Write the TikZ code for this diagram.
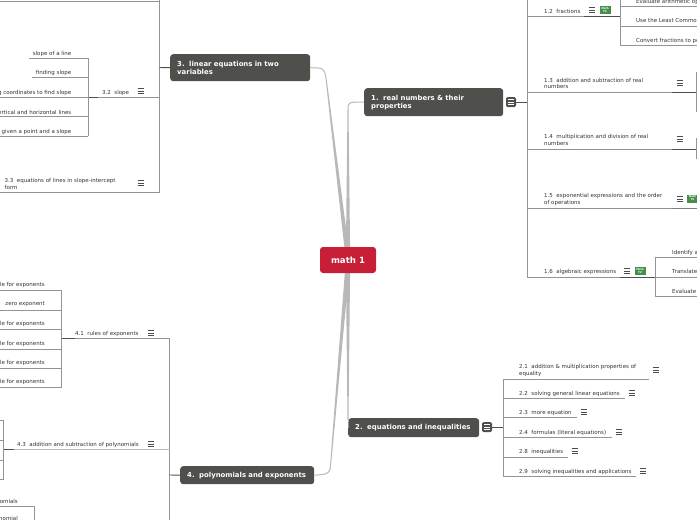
\documentclass[tikz,border=0pt]{standalone}
\usepackage{fontspec}
\setmainfont{DejaVu Sans}
\usetikzlibrary{calc}
\definecolor{HubClr}{rgb}{0.78,0.12,0.22}
\definecolor{MainClr}{rgb}{0.31,0.31,0.30}
\definecolor{LimbClr}{rgb}{0.72,0.72,0.72}
\definecolor{TwigClr}{rgb}{0.58,0.58,0.58}
\definecolor{TvClr}{rgb}{0.27,0.56,0.29}
\tikzset{
  mainnode/.style={fill=MainClr,text=white,rounded corners=3pt,anchor=north west,inner xsep=7pt,inner ysep=0pt,align=left,font=\bfseries\fontsize{6.9}{8}\selectfont},
  leaf/.style={anchor=west,inner sep=0pt,align=left,text=black!80,yshift=-.5pt,font=\fontsize{5.5}{6.4}\selectfont},
  leafr/.style={leaf,anchor=east},
  twig/.style={draw=TwigClr,line width=.8pt},
  stub/.style={draw=MainClr,line width=.9pt},
  menubtn/.style={fill=MainClr,rounded corners=1.5pt,minimum size=10pt,inner sep=0pt},
  tvbadge/.style={fill=TvClr,text=white,inner sep=0pt,minimum width=11pt,minimum height=8pt,align=center,font=\bfseries\fontsize{2.6}{3}\selectfont},
  menu/.pic={\draw[line width=.55pt,pic actions] (-3.4,-2.7) -- (3.4,-2.7) (-3.4,0) -- (3.4,0) (-3.4,2.7) -- (3.4,2.7);}
}
% limb from the hub to a main node
\newcommand{\limb}[3]{
  \fill[LimbClr] ($(hubc)+(-2.2,0)$) -- ($(#2)+(-.5,0)$) -- ($(#2)+(.5,0)$) -- ($(hubc)+(2.2,0)$) -- cycle;
  \draw[LimbClr,line width=1pt] (#2) .. controls (#3) .. (#1);
}
\begin{document}
\begin{tikzpicture}[x=1pt,y=-1pt]
\useasboundingbox (0,0) rectangle (697,520);
\clip (0,0) rectangle (697,520);

% main nodes
\node[mainnode,text width=125pt,minimum height=28pt] (main1) at (364,88) {1.\ \ real numbers \& their\\properties};
\node[mainnode,text width=117pt,minimum height=19pt] (main2) at (348,418) {\mbox{2.\ \ equations and inequalities}};
\node[mainnode,text width=126pt,minimum height=27pt] (main3) at (170,54) {3.\ \ linear equations in two\\variables};
\node[mainnode,text width=120pt,minimum height=18pt] (main4) at (180,466) {\mbox{4.\ \ polynomials and exponents}};
\node[menubtn] (btn1) at (511,102) {};
\node[menubtn] (btn2) at (487,427) {};
\foreach \b in {btn1,btn2}{\pic[draw=white,scale=.9] at (\b) {menu};}

\coordinate (hubc) at (348,260);
\coordinate (knee1) at (348,110);
\coordinate (knee2) at (348,420);
\coordinate (knee3) at (326,78);
\coordinate (knee4) at (331,460);
\limb{main1.west}{knee1}{348,102}
\limb{main2.west}{knee2}{348,428}
\limb{main3.east}{knee3}{324,68}
\limb{main4.east}{knee4}{330,474}
\node[fill=HubClr,text=white,rounded corners=3pt,minimum width=56pt,minimum height=26pt,inner sep=0pt,font=\bfseries\fontsize{8.6}{9}\selectfont] (hub) at (hubc) {math 1};

% branch 1
\coordinate (top1) at (527,0);
\coordinate (end1) at (527,277);
\coordinate (joint1) at (527,102);
\draw[twig] (top1) -- (end1);
\draw[stub] (btn1.east) -- (joint1);
\foreach \n/\y/\t/\x/\s in {a/16/11/584/{1.2\ \ fractions},b/92/83/672/{1.3\ \ addition and subtraction of real\\numbers},c/149/139.5/672/{1.4\ \ multiplication and division of real\\numbers},d/208/199/672/{1.5\ \ exponential expressions and the order\\of operations},e/277/271/620/{1.6\ \ algebraic expressions}}{
  \coordinate (s\n) at (527,\y);
  \coordinate (m\n) at (\x,\y);
  \node[leaf] at (544,\t) {\s};
  \draw[twig] (s\n) -- (m\n);
}
\coordinate (fr) at (620,16);
\coordinate (alg) at (655,277);
\draw[stub] (ma) -- (fr);
\draw[stub] (mb) -- (697,92);
\draw[stub] (mc) -- (697,149);
\draw[stub,TwigClr!70!MainClr] (md) -- (697,208);
\draw[stub] (me) -- (alg);

\draw[twig] (620,0) -- (620,45);
\foreach \y in {6,26,45}{\draw[twig] (620,\y) -- (697,\y);}
\node[leaf] at (636,1) {Evaluate arithmetic operations};
\node[leaf] at (636,20) {Use the Least Common};
\node[leaf] at (636,40) {Convert fractions to percents};

\draw[twig] (696.5,72) -- (696.5,112);
\draw[twig] (696.5,138) -- (696.5,159);

\draw[twig] (655,257) -- (655,296);
\foreach \y in {257,277,296}{\draw[twig] (655,\y) -- (697,\y);}
\node[leaf] at (672,252) {Identify algebraic};
\node[leaf] at (672,271) {Translate};
\node[leaf] at (672,291) {Evaluate};

\foreach \x/\y in {592/10,680/83,680/139,680/199,627/271}{\pic[draw=black!70] at (\x,\y) {menu};}
\foreach \x/\y in {605/10,692.5/198.5,640/271}{\node[tvbadge] at (\x,\y) {Math\\TV};}

% branch 2
\coordinate (top2) at (503,379);
\coordinate (end2) at (503,476);
\coordinate (joint2) at (503,427);
\draw[twig] (top2) -- (end2);
\draw[stub] (btn2.east) -- (joint2);
\foreach \y/\t/\x/\ic/\s in {379/370/649/656/{2.1\ \ addition \& multiplication properties of\\equality},398/393/625/632/{2.2\ \ solving general linear equations},417.5/412/577/584/{2.3\ \ more equation},437/432/612/619/{2.4\ \ formulas (literal equations)},457/451/568/575/{2.8\ \ inequalities},476/471/636/643/{2.9\ \ solving inequalities and applications}}{
  \coordinate (p) at (503,\y);
  \coordinate (q) at (\x,\y);
  \node[leaf] at (519,\t) {\s};
  \draw[twig] (p) -- (q);
  \pic[draw=black!70] at (\ic,\t) {menu};
}

% branch 3
\coordinate (top3) at (159.5,0);
\coordinate (end3) at (159.5,192);
\coordinate (joint3) at (159.5,67.5);
\draw[twig] (top3) -- (end3);
\draw[stub] (joint3) -- (main3.west);
\draw[twig] (0,1) -- (159.5,1);
\draw[twig] (0,192) -- (159.5,192);
\node[leaf] at (4.5,183.5) {3.3\ \ equations of lines in slope-intercept\\form};
\pic[draw=black!70] at (141,183) {menu};
\coordinate (slope) at (88,97);
\draw[twig] (159.5,97) -- (98,97);
\draw[stub] (98,97) -- (slope);
\node[leaf] at (102,92) {3.2\ \ slope};
\pic[draw=black!70] at (141,91) {menu};
\draw[twig] (88,58) -- (88,136);
\foreach \y/\x/\s in {58/29/{slope of a line},77.5/32/{finding slope},97/0/{using coordinates to find slope},116.5/0/{vertical and horizontal lines},136/0/{given a point and a slope}}{
  \coordinate (u) at (\x,\y);
  \draw[twig] (u) -- (88,\y);
  \node[leafr] at (71.5,\y-5) {\s};
}

% branch 4
\coordinate (top4) at (169.5,338.5);
\coordinate (end4) at (169.5,520);
\coordinate (joint4) at (169.5,475);
\draw[twig] (top4) -- (end4);
\draw[stub] (joint4) -- (main4.west);
\coordinate (rules) at (61.5,338.5);
\draw[twig] (top4) -- (75,338.5);
\draw[stub] (75,338.5) -- (rules);
\node[leaf] at (75,333) {4.1\ \ rules of exponents};
\pic[draw=black!70] at (151,333) {menu};
\draw[twig] (61.5,290) -- (61.5,387.5);
\foreach \y/\s in {290/{rule for exponents},310/{zero exponent},329.5/{rule for exponents},349/{rule for exponents},368/{rule for exponents},387.5/{rule for exponents}}{
  \coordinate (u) at (0,\y);
  \draw[twig] (u) -- (61.5,\y);
  \node[leafr] at (45,\y-6) {\s};
}
\coordinate (poly) at (3.5,449.5);
\draw[twig,LimbClr] (169.5,449.5) -- (14,449.5);
\draw[stub] (14,449.5) -- (poly);
\node[leaf] at (17,444) {4.3\ \ addition and subtraction of polynomials};
\pic[draw=black!70] at (151,444) {menu};
\draw[twig] (3.5,420) -- (3.5,479);
\foreach \y in {420,440,460,479}{\draw[twig] (0,\y) -- (3.5,\y);}
\node[leafr] at (18,501) {polynomials};
\draw[twig] (0,506) -- (34.5,506) -- (34.5,520);
\node[leafr] at (18,518.5) {polynomial};

\end{tikzpicture}
\end{document}
